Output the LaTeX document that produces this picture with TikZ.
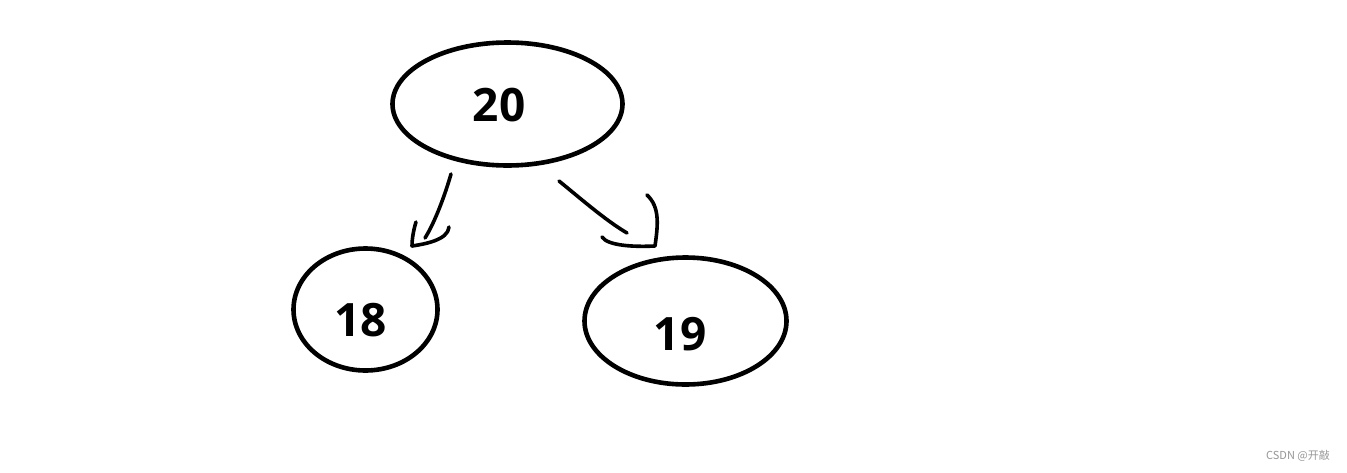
\documentclass[tikz,border=0pt]{standalone}
\usepackage{fontspec}
\setmainfont{Open Sans}
\newfontfamily\cjkfont{Noto Sans CJK SC}
\usetikzlibrary{shapes.geometric}
\definecolor{wm}{RGB}{150,150,150}
\begin{document}
\begin{tikzpicture}[x=1pt,y=-1pt,
  bubble/.style={draw=black,line width=4.6pt,ellipse,inner sep=0pt},
  numtext/.style={font=\fontsize{46}{50}\selectfont\bfseries,inner sep=0pt},
  hand/.style={draw=black,line width=3.6pt,line cap=round,line join=round}]
\useasboundingbox[fill=white] (0,0) rectangle (1347,472);
% nodes
\node[bubble,minimum width=230pt,minimum height=123pt] (n20) at (507.5,104) {};
\node[bubble,minimum width=144pt,minimum height=122pt] (n18) at (365.5,309.5) {};
\node[bubble,minimum width=202pt,minimum height=127pt] (n19) at (685.5,321) {};
\node[numtext] (t20) at (499,105) {20};
\node[numtext] (t18) at (360.5,320.5) {18};
\node[numtext] (t19) at (680,334) {19};
% hand-drawn arrow end points
\coordinate (a1s) at (451,174);
\coordinate (a1e) at (425,238);
\coordinate (a1l) at (416,222);
\coordinate (a1t) at (412,246);
\coordinate (a1r) at (449,227);
\coordinate (a2s) at (559,181);
\coordinate (a2e) at (627,233);
\coordinate (a2r) at (647,195);
\coordinate (a2t) at (655,246);
\coordinate (a2l) at (602,237);
% left arrow
\draw[hand] (a1s) .. controls (445,195) and (435,222) .. (a1e);
\draw[hand] (a1l) .. controls (413,232) and (412,240) .. (a1t)
  .. controls (425,244) and (448,240) .. (a1r);
% right arrow
\draw[hand] (a2s) .. controls (580,198) and (605,220) .. (a2e);
\draw[hand] (a2r) .. controls (660,207) and (658,225) .. (a2t)
  .. controls (635,247) and (608,246) .. (a2l);
% watermark
\node[text=wm,font=\cjkfont\fontsize{11}{12}\selectfont,inner sep=0pt] (wmk) at (1298,456) {CSDN @开敲};
\end{tikzpicture}
\end{document}
